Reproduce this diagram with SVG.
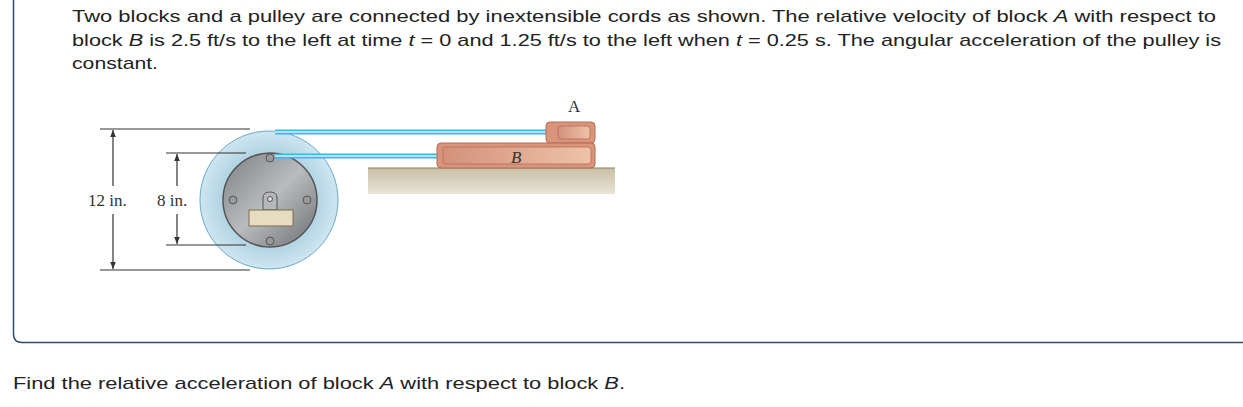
<svg xmlns="http://www.w3.org/2000/svg" width="1243" height="407" viewBox="0 0 1243 407">
<style>
.t{font-family:"Liberation Sans",Arial,sans-serif;font-size:17px;fill:#222}
.s{font-family:"Liberation Serif","Times New Roman",serif;font-size:17px;fill:#333}
.d{stroke:#333;stroke-width:1.2}
.cord{stroke:#3fb6ea;stroke-width:5}
.cordh{stroke:#d6f2fc;stroke-width:1.5}
</style>
<defs>
<marker id="ar" viewBox="0 0 10 10" refX="10" refY="5" markerWidth="6" markerHeight="8" orient="auto-start-reverse"><path d="M0,1 L10,5 L0,9 Z" fill="#333"/></marker>
<radialGradient id="wheel" cx="0.5" cy="0.5" r="0.5"><stop offset="0.6" stop-color="#a9cfe0"/><stop offset="1" stop-color="#cfe6f0"/></radialGradient>
<linearGradient id="hub" x1="0" y1="0" x2="1" y2="1"><stop offset="0" stop-color="#7d8083"/><stop offset="0.5" stop-color="#b9bbbd"/><stop offset="1" stop-color="#6d6f72"/></linearGradient>
<linearGradient id="blk" x1="0" y1="0" x2="1" y2="0"><stop offset="0" stop-color="#d4917c"/><stop offset="1" stop-color="#eec3a8"/></linearGradient>
<linearGradient id="gnd" x1="0" y1="0" x2="0" y2="1"><stop offset="0" stop-color="#c9bfa6"/><stop offset="1" stop-color="#e9e4d6"/></linearGradient>
</defs>
<path d="M13.5,0 V334 Q13.5,342.5 22,342.5 H1243" fill="none" stroke="#2b4a7a" stroke-width="1.5"/>
<g id="question">
<text class="t" x="72" y="22" textLength="1144" lengthAdjust="spacingAndGlyphs">Two blocks and a pulley are connected by inextensible cords as shown. The relative velocity of block <tspan font-style="italic">A</tspan> with respect to</text>
<text class="t" x="72" y="46" textLength="1149" lengthAdjust="spacingAndGlyphs">block <tspan font-style="italic">B</tspan> is 2.5 ft/s to the left at time <tspan font-style="italic">t</tspan> = 0 and 1.25 ft/s to the left when <tspan font-style="italic">t</tspan> = 0.25 s. The angular acceleration of the pulley is</text>
<text class="t" x="72" y="69" textLength="86" lengthAdjust="spacingAndGlyphs">constant.</text>
<text class="t" x="13" y="389" textLength="612" lengthAdjust="spacingAndGlyphs">Find the relative acceleration of block <tspan font-style="italic">A</tspan> with respect to block <tspan font-style="italic">B</tspan>.</text>
</g>
<g id="ground"><rect x="368" y="168" width="247" height="26" fill="url(#gnd)"/><line x1="368" y1="168" x2="615" y2="168" stroke="#8a8060" stroke-width="1.2"/></g>
<g id="pulley">
<circle cx="269" cy="200" r="69" fill="url(#wheel)" stroke="#6aa9c6" stroke-width="1"/>
<circle cx="270" cy="200" r="47" fill="url(#hub)" stroke="#555" stroke-width="1.5"/>
<circle cx="270" cy="158" r="4" fill="#999" stroke="#555"/>
<circle cx="270" cy="241" r="4" fill="#999" stroke="#555"/>
<circle cx="233" cy="200" r="4" fill="#999" stroke="#555"/>
<circle cx="307" cy="200" r="4" fill="#999" stroke="#555"/>
<path d="M263,210 V198 Q263,192 270,192 Q277,192 277,198 V210 Z" fill="#b5b7ba" stroke="#555"/>
<circle cx="270" cy="199" r="2.5" fill="#ddd" stroke="#555"/>
<rect x="249" y="210" width="44" height="16" fill="#e6dcc2" stroke="#7a6e50"/>
</g>
<g id="connectors">
<line class="cord" x1="275" y1="132" x2="552" y2="132"/><line class="cordh" x1="275" y1="132" x2="552" y2="132"/>
<line class="cord" x1="275" y1="156" x2="442" y2="156"/><line class="cordh" x1="275" y1="156" x2="442" y2="156"/>
</g>
<g id="blockA">
<rect x="546" y="122" width="49" height="21" rx="4" fill="#d9947c" stroke="#b66c55"/>
<rect x="558" y="126" width="32" height="13" rx="3" fill="url(#blk)" stroke="#b66c55" stroke-width="0.8"/>
<text class="s" x="568" y="112">A</text>
</g>
<g id="blockB">
<rect x="437" y="143" width="158" height="25" rx="4" fill="#d9947c" stroke="#b66c55"/>
<rect x="443" y="147" width="148" height="17" rx="3" fill="url(#blk)" stroke="#b66c55" stroke-width="0.8"/>
<text class="s" x="511" y="163" font-style="italic">B</text>
</g>
<g id="dimensions">
<line class="d" x1="100" y1="129" x2="250" y2="129"/>
<line class="d" x1="100" y1="270" x2="250" y2="270"/>
<line class="d" x1="166" y1="153" x2="246" y2="153"/>
<line class="d" x1="166" y1="245" x2="246" y2="245"/>
<line class="d" x1="113" y1="186" x2="113" y2="130" marker-end="url(#ar)"/>
<line class="d" x1="113" y1="214" x2="113" y2="269" marker-end="url(#ar)"/>
<line class="d" x1="177" y1="186" x2="177" y2="154" marker-end="url(#ar)"/>
<line class="d" x1="177" y1="214" x2="177" y2="244" marker-end="url(#ar)"/>
<text class="s" x="88" y="206">12 in.</text>
<text class="s" x="157" y="206">8 in.</text>
</g>
</svg>
